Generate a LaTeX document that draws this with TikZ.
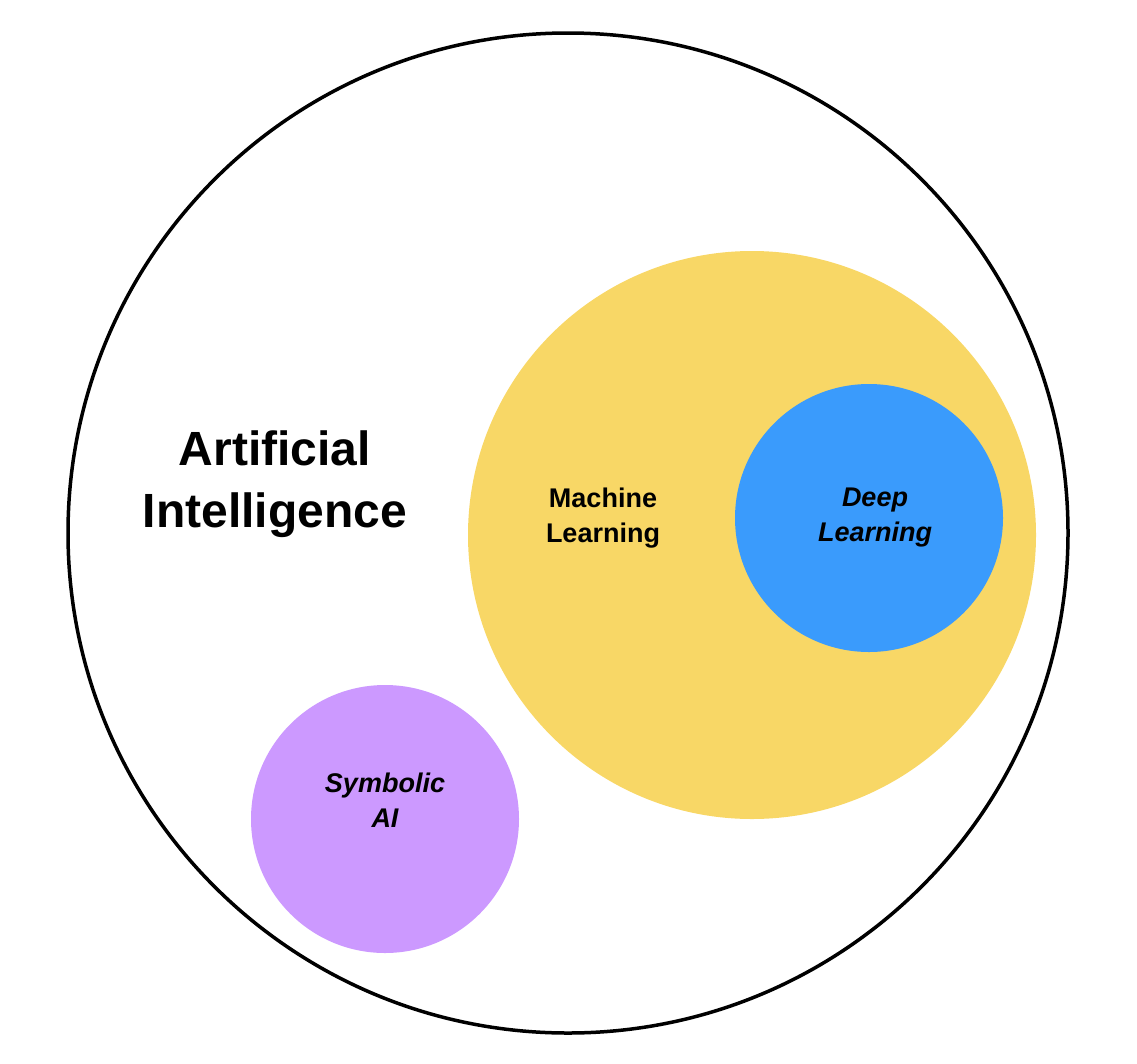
\documentclass[tikz,border=0pt]{standalone}
\usepackage{fontspec}
\setmainfont{Liberation Sans}
\begin{document}
\begin{tikzpicture}[x=1pt,y=-1pt,
  lbl/.style={align=center,font=\bfseries,text=black}]
\useasboundingbox (0,0) rectangle (1137,1063);
\definecolor{ml}{HTML}{F8D766}
\definecolor{dl}{HTML}{3A9BFC}
\definecolor{sy}{HTML}{CC99FF}
\draw[line width=3.5pt] (568,533) circle[radius=500];
\fill[ml] (752,535) circle[radius=284];
\fill[dl] (869,518) circle[radius=134];
\fill[sy] (385,819) circle[radius=134];
\node[lbl,font=\fontsize{48}{62}\selectfont\bfseries] (ai) at (275,484) {Artificial\\Intelligence};
\node[lbl,font=\fontsize{27}{35}\selectfont\bfseries] (mlt) at (603,518) {Machine\\Learning};
\node[lbl,font=\fontsize{27}{35}\selectfont\bfseries\itshape] (dlt) at (875,518) {Deep\\Learning};
\node[lbl,font=\fontsize{27}{35}\selectfont\bfseries\itshape] (syt) at (385,800) {Symbolic\\AI};
\end{tikzpicture}
\end{document}
